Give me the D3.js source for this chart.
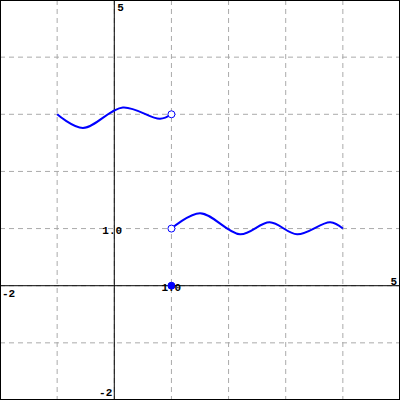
<!DOCTYPE html><html><head><script src="https://d3js.org/d3.v7.min.js"></script>
<style>body{margin:0}</style></head><body><svg id="c" width="400" height="400"></svg>
<script>
const xDomain=[-2,5], yDomain=[-2,5];
const ticks=[-2,-1,0,1,2,3,4,5];
const curve1=[[-1,3],[-0.55,2.76],[0.15,3.12],[0.8,2.92],[1,3]];
const curve2=[[1,1],[1.5,1.27],[2.2,0.9],[2.72,1.11],[3.2,0.9],[3.78,1.11],[4,1]];
const openPts=[[1,3],[1,1]];
const filledPts=[[1,0]];
const svg=d3.select("#c");
const x=d3.scaleLinear().domain(xDomain).range([0,400]);
const y=d3.scaleLinear().domain(yDomain).range([400,0]);
svg.append("rect").attr("width",400).attr("height",400).attr("fill","white");
ticks.forEach(t=>{
 svg.append("line").attr("x1",x(t)).attr("x2",x(t)).attr("y1",0).attr("y2",400).attr("stroke","#aaa").attr("stroke-dasharray","5,4");
 svg.append("line").attr("y1",y(t)).attr("y2",y(t)).attr("x1",0).attr("x2",400).attr("stroke","#aaa").attr("stroke-dasharray","5,4");
});
svg.append("line").attr("x1",x(0)).attr("x2",x(0)).attr("y1",0).attr("y2",400).attr("stroke","black");
svg.append("line").attr("y1",y(0)).attr("y2",y(0)).attr("x1",0).attr("x2",400).attr("stroke","black");
svg.append("rect").attr("x",0.5).attr("y",0.5).attr("width",399).attr("height",399).attr("fill","none").attr("stroke","black");
const line=d3.line().x(d=>x(d[0])).y(d=>y(d[1])).curve(d3.curveCatmullRom);
[curve1,curve2].forEach(c=>svg.append("path").attr("d",line(c)).attr("fill","none").attr("stroke","blue").attr("stroke-width",2));
openPts.forEach(p=>svg.append("circle").attr("cx",x(p[0])).attr("cy",y(p[1])).attr("r",3.5).attr("fill","white").attr("stroke","blue"));
filledPts.forEach(p=>svg.append("circle").attr("cx",x(p[0])).attr("cy",y(p[1])).attr("r",3.5).attr("fill","blue").attr("stroke","blue"));
const lab=(t,px,py,a)=>svg.append("text").attr("x",px).attr("y",py).attr("text-anchor",a||"start").attr("font-family","Liberation Mono").attr("font-weight","bold").attr("font-size",11).text(t);
lab("5",x(0)+3,11);
lab("-2",2,y(0)+11);
lab("5",397,y(0)-1,"end");
lab("-2",x(0)-2,396,"end");
lab("1.0",x(0)-12,y(1)+5);
lab("1.0",x(1)-10,y(0)+5);
</script></body></html>
